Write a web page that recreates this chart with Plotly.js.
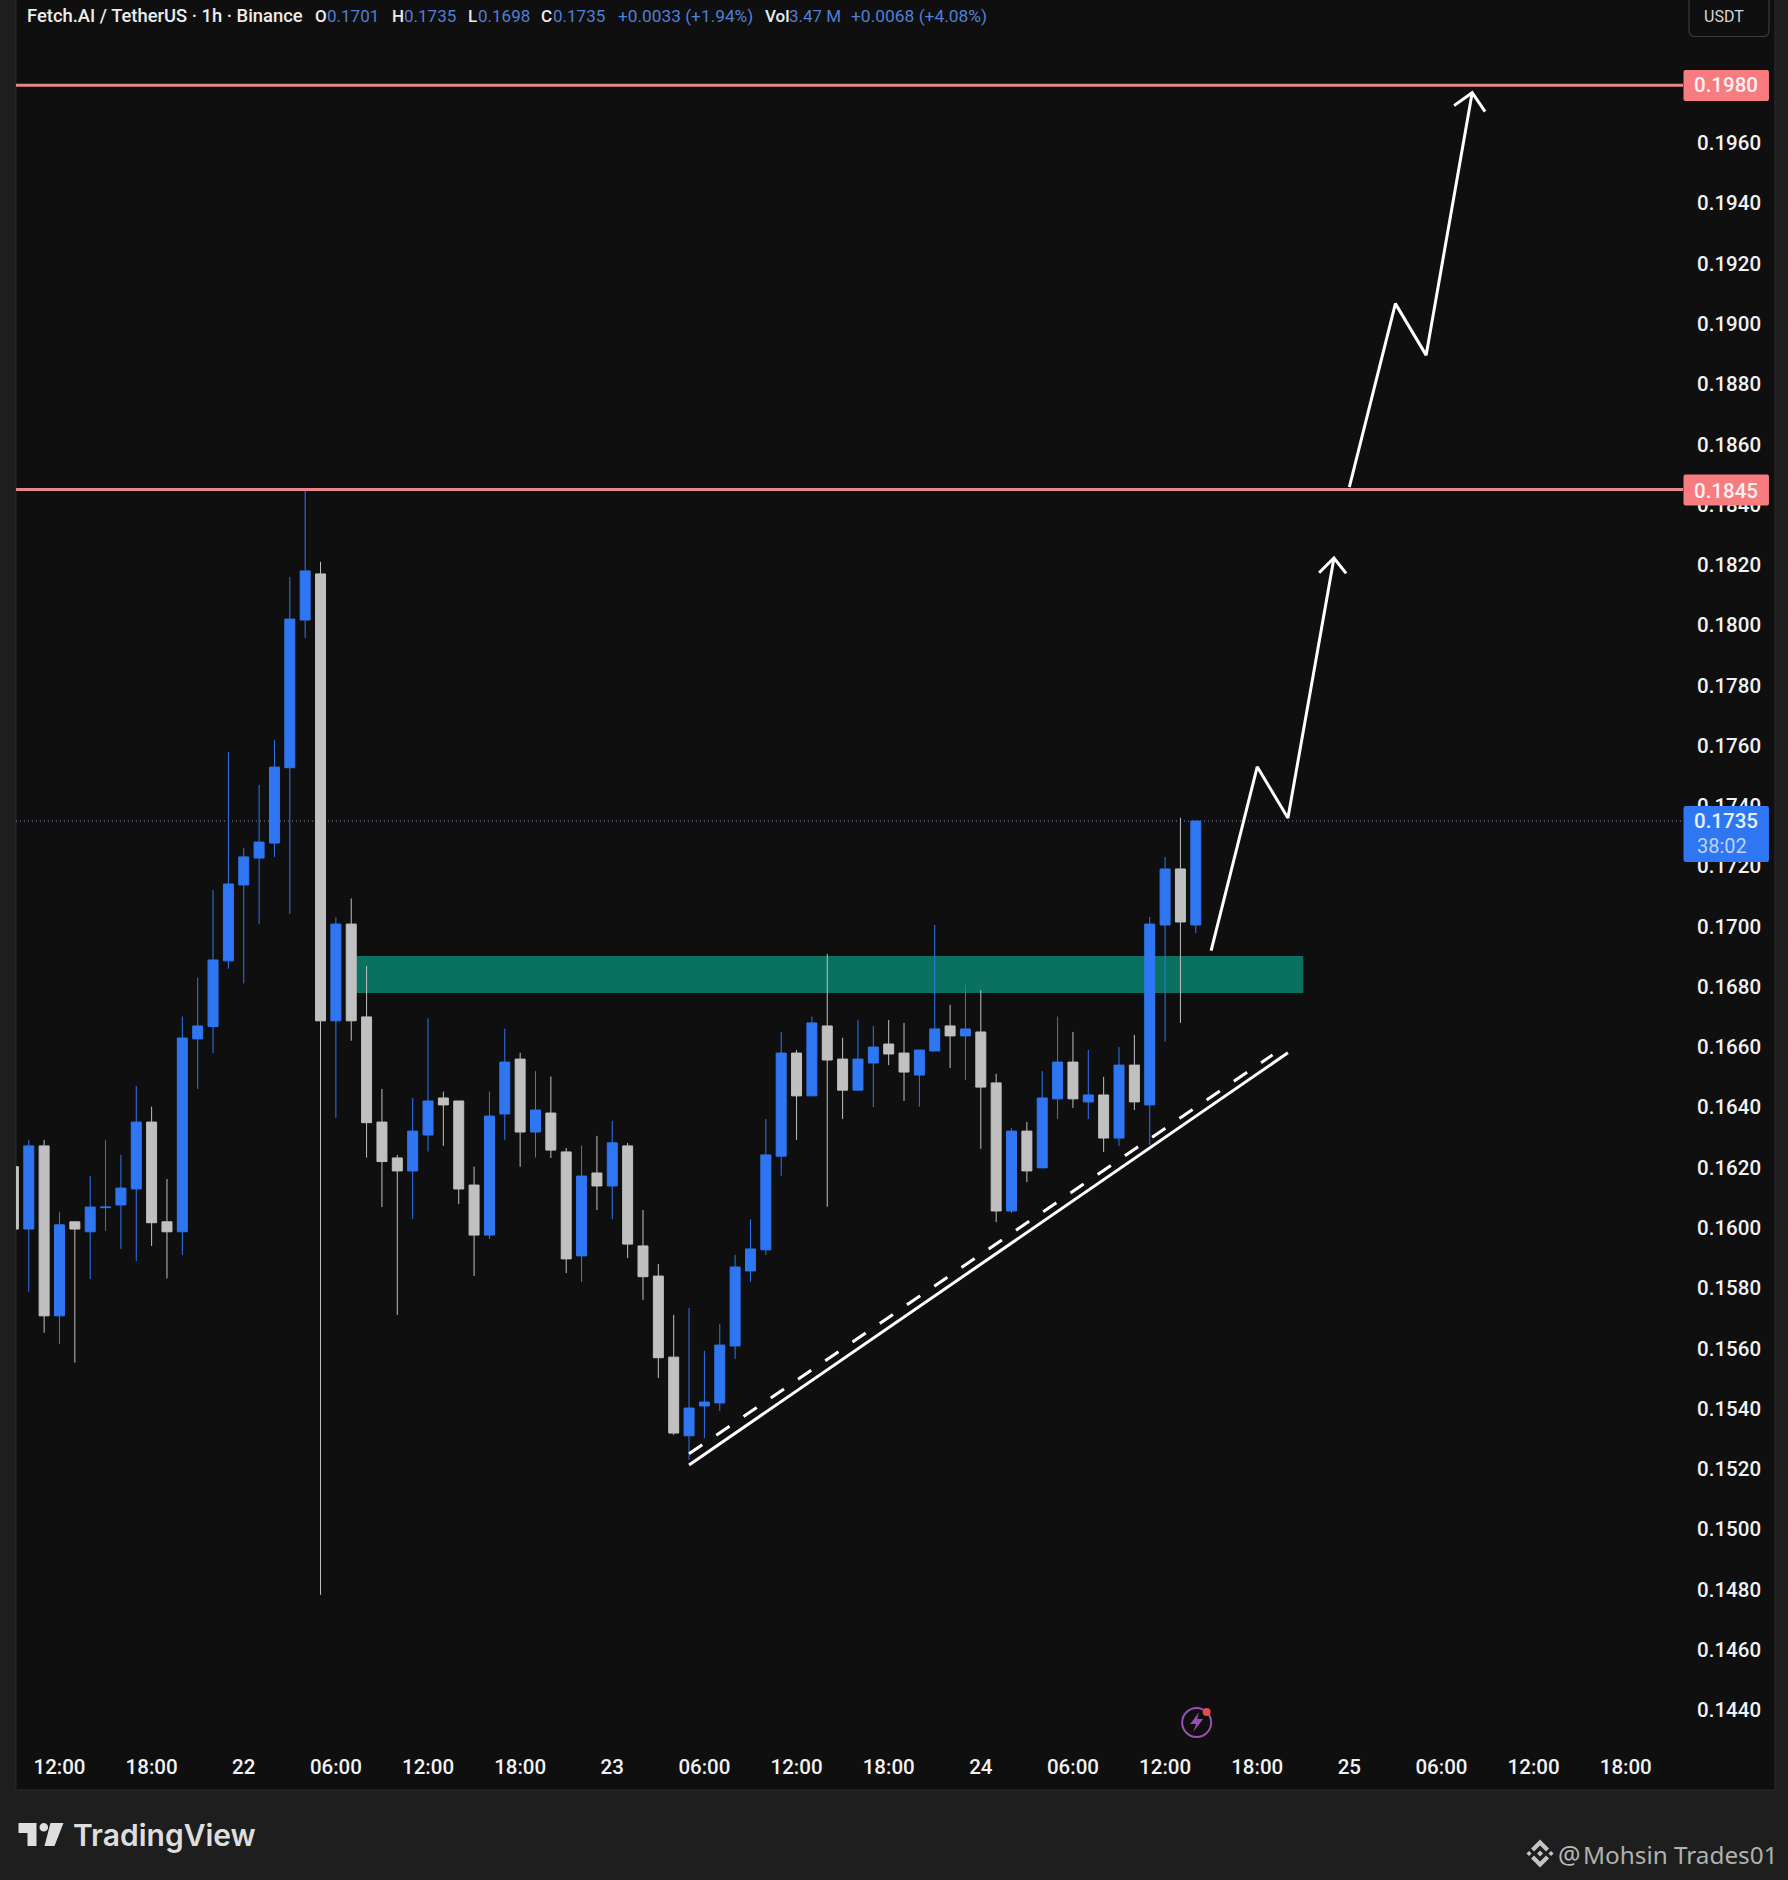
<!DOCTYPE html>
<html>
<head>
<meta charset="utf-8">
<script src="https://cdn.plot.ly/plotly-3.0.1.min.js"></script>
<style>html,body{margin:0;padding:0;background:#1e1e1e}#chart{width:1788px;height:1880px}</style>
</head>
<body>
<div id="chart"></div>
<script>
// Hours since 21st 12:00
const hours = [-3,-2,-1,0,1,2,3,4,5,6,7,8,9,10,11,12,13,14,15,16,17,18,19,20,21,22,23,24,25,26,27,28,29,30,31,32,33,34,35,36,37,38,39,40,41,42,43,44,45,46,47,48,49,50,51,52,53,54,55,56,57,58,59,60,61,62,63,64,65,66,67,68,69,70,71,72,73,74];
const opens = [.16203,.15996,.16272,.15708,.16020,.15987,.16067,.16076,.16129,.16351,.16020,.15987,.16627,.16668,.16886,.17138,.17227,.17277,.17527,.18017,.18170,.16687,.17008,.16700,.16351,.16232,.16189,.16308,.16431,.16421,.16142,.15976,.16378,.16560,.16318,.16381,.16252,.15907,.16182,.16139,.16272,.15940,.15840,.15571,.15310,.15409,.15419,.15608,.15857,.15927,.16238,.16580,.16438,.16670,.16560,.16457,.16547,.16610,.16580,.16507,.16587,.16670,.16637,.16650,.16481,.16056,.16321,.16199,.16428,.16550,.16418,.16441,.16298,.16540,.16408,.17005,.17191,.17005];
const highs = [.16203,.16292,.16292,.16053,.16020,.16172,.16292,.16242,.16471,.16402,.16162,.16701,.16831,.17121,.17579,.17261,.17470,.17619,.18160,.18449,.18210,.17030,.17093,.16869,.16461,.16242,.16431,.16695,.16452,.16421,.16203,.16452,.16661,.16581,.16520,.16502,.16265,.16273,.16305,.16355,.16282,.16059,.15880,.15711,.15734,.15592,.15681,.15910,.16029,.16361,.16650,.16590,.16701,.16909,.16631,.16690,.16670,.16690,.16680,.16590,.17005,.16740,.16806,.16789,.16511,.16331,.16351,.16520,.16701,.16650,.16590,.16501,.16600,.16640,.17032,.17231,.17361,.1735];
const lows = [.15996,.15788,.15652,.15615,.15553,.15830,.15990,.15930,.15890,.15940,.15832,.15910,.16461,.16580,.16860,.16811,.17008,.17231,.17042,.17957,.14782,.16365,.16621,.16233,.16069,.15711,.16029,.16253,.16272,.16079,.15840,.15963,.16292,.16203,.16233,.16232,.15850,.15820,.16059,.16029,.15900,.15761,.15502,.15313,.15230,.15303,.15392,.15565,.15821,.15910,.16173,.16292,.16438,.16070,.16361,.16457,.16401,.16540,.16421,.16402,.16587,.16530,.16491,.16262,.16019,.16049,.16152,.16199,.16361,.16398,.16361,.16252,.16272,.16391,.16275,.16618,.16680,.16978];
const closes = [.15996,.16272,.15708,.16010,.15996,.16069,.16069,.16132,.16351,.16017,.15987,.16630,.16670,.16889,.17141,.17231,.17280,.17529,.18020,.18180,.16687,.17008,.16687,.16349,.16220,.16189,.16321,.16421,.16408,.16129,.15976,.16371,.16550,.16318,.16391,.16258,.15897,.16172,.16139,.16282,.15946,.15838,.15569,.15319,.15402,.15422,.15611,.15870,.15930,.16242,.16580,.16438,.16680,.16557,.16457,.16560,.16600,.16577,.16517,.16590,.16660,.16637,.16660,.16467,.16056,.16321,.16189,.16431,.16550,.16428,.16441,.16298,.16540,.16418,.17008,.17191,.17015,.1735];

const xTickVals = [0,6,12,18,24,30,36,42,48,54,60,66,72,78,84,90,96,102];
const xTickText = ['12:00','18:00','22','06:00','12:00','18:00','23','06:00','12:00','18:00','24','06:00','12:00','18:00','25','06:00','12:00','18:00'];
const yTickVals = [.144,.146,.148,.15,.152,.154,.156,.158,.16,.162,.164,.166,.168,.17,.172,.174,.176,.178,.18,.182,.184,.186,.188,.19,.192,.194,.196];
const yTickText = ['0.1440','0.1460','0.1480','0.1500','0.1520','0.1540','0.1560','0.1580','0.1600','0.1620','0.1640','0.1660','0.1680','0.1700','0.1720','0.1740','0.1760','0.1780','0.1800','0.1820','0.1840','0.1860','0.1880','0.1900','0.1920','0.1940','0.1960'];

const upperLevel = 0.19792, lowerLevel = 0.1845, lastPrice = 0.1735;
const zoneHours = [19,81], zonePrices = [0.16779,0.16902];
const trendHours = [41,80], trendPrices = [0.15213,0.16581];
const dashHours = [41,79], dashPrices = [0.15250,0.16574];
const arrow1Hours = [75,78,80,83], arrow1Prices = [0.16920,0.17530,0.17360,0.18223];
const head1Hours = [82.03,83,83.79], head1Prices = [0.18174,0.18223,0.18172];
const arrow2Hours = [84,87,89,92], arrow2Prices = [0.18458,0.19067,0.18896,0.19767];
const head2Hours = [90.82,92,92.84], head2Prices = [0.19724,0.19767,0.19704];

// pixel helpers for page furniture only
const PL=15.5, PR=1683, PB=1748, PT=0;
const fx = p => (p-PL)/(PR-PL), fy = p => (PB-p)/(PB-PT);
function pathOf(pts){return 'M'+pts.map(p=>fx(p[0])+','+fy(p[1])).join('L')+'Z';}
function roundRect(x0,y0,x1,y1,r){
  const P=(x,y)=>fx(x)+','+fy(y);
  return 'M'+P(x0+r,y0)+'L'+P(x1-r,y0)+'Q'+P(x1,y0)+' '+P(x1,y0+r)+'L'+P(x1,y1-r)+'Q'+P(x1,y1)+' '+P(x1-r,y1)+'L'+P(x0+r,y1)+'Q'+P(x0,y1)+' '+P(x0,y1-r)+'L'+P(x0,y0+r)+'Q'+P(x0,y0)+' '+P(x0+r,y0)+'Z';
}
const pshape = (path,fill,line,layer) => ({type:'path',xref:'paper',yref:'paper',path,fillcolor:fill,line:line||{width:0},layer:layer||'above'});

const BLUE='#2f76f3', GREY='#c0c0c0', PINK='#e8868d', TAGPINK='#f77c80', WHITE='#ffffff';
const lineTrace=(x,y,w,dash)=>({type:'scatter',mode:'lines',x,y,hoverinfo:'skip',line:{color:WHITE,width:w,dash:dash||'solid'}});

const traces=[
 {type:'candlestick',x:hours,open:opens,high:highs,low:lows,close:closes,hoverinfo:'skip',whiskerwidth:0,
  increasing:{line:{color:BLUE,width:1},fillcolor:BLUE},
  decreasing:{line:{color:GREY,width:1},fillcolor:GREY}},
 lineTrace(trendHours,trendPrices,3),
 lineTrace(dashHours,dashPrices,3,'16px,17px'),
 lineTrace(arrow1Hours,arrow1Prices,3),
 lineTrace(head1Hours,head1Prices,3),
 lineTrace(arrow2Hours,arrow2Prices,3),
 lineTrace(head2Hours,head2Prices,3)
];

const xR=[(PL-59)/15.36,(PR-59)/15.36], yR=[0.200745-PB/30135,0.200745];
const cx=1540, cy=1853.5;
const shapes=[
 {type:'rect',xref:'paper',yref:'paper',x0:fx(15.5),x1:fx(1775),y0:fy(1790),y1:fy(-2),fillcolor:'#0f0f0f',line:{color:'#2b2b2b',width:1},layer:'below'},
 {type:'rect',xref:'x',yref:'y',x0:zoneHours[0],x1:zoneHours[1],y0:zonePrices[0],y1:zonePrices[1],fillcolor:'#0a705f',line:{width:0},layer:'below'},
 {type:'line',xref:'x',yref:'y',x0:xR[0],x1:xR[1],y0:lastPrice,y1:lastPrice,line:{color:'#6f8fd0',width:1,dash:'1px,3px'},layer:'below'},
 {type:'line',xref:'x',yref:'y',x0:xR[0],x1:xR[1],y0:upperLevel,y1:upperLevel,line:{color:PINK,width:3},layer:'above'},
 {type:'line',xref:'x',yref:'y',x0:xR[0],x1:xR[1],y0:lowerLevel,y1:lowerLevel,line:{color:PINK,width:3},layer:'above'},
 // price tags
 pshape(roundRect(1683.5,70,1769,101,2),TAGPINK),
 pshape(roundRect(1683.5,474.5,1769,505.5,2),TAGPINK),
 pshape(roundRect(1683.5,806,1769,862,2),BLUE),
 // USDT button
 pshape(roundRect(1689,-6,1769,36.5,6),'rgba(0,0,0,0)',{color:'#3b3b3b',width:1.2}),
 // flash icon
 {type:'circle',xref:'paper',yref:'paper',x0:fx(1182),x1:fx(1211),y0:fy(1737),y1:fy(1708),line:{color:'#9b4fb5',width:2},fillcolor:'rgba(0,0,0,0)',layer:'above'},
 pshape(pathOf([[1199,1712],[1190,1724],[1196,1724],[1193,1732],[1203,1719],[1197,1719]]),'#9b4fb5'),
 {type:'circle',xref:'paper',yref:'paper',x0:fx(1202.5),x1:fx(1210.5),y0:fy(1716),y1:fy(1708),line:{width:0},fillcolor:'#e5484d',layer:'above'},
 // TradingView mark
 pshape(pathOf([[18,1823],[36,1823],[36,1846],[27,1846],[27,1833],[18,1833]]),'#dedede'),
 {type:'circle',xref:'paper',yref:'paper',x0:fx(39),x1:fx(47.6),y0:fy(1831.5),y1:fy(1823),line:{width:0},fillcolor:'#dedede',layer:'above'},
 pshape(pathOf([[50,1823],[63,1823],[54,1846],[44,1846]]),'#dedede'),
 // Binance mark
 pshape(pathOf([[cx,cy-14],[cx+9,cy-5],[cx+6,cy-2],[cx,cy-8],[cx-6,cy-2],[cx-9,cy-5]]),'#c4c4c4'),
 pshape(pathOf([[cx,cy+14],[cx+9,cy+5],[cx+6,cy+2],[cx,cy+8],[cx-6,cy+2],[cx-9,cy+5]]),'#c4c4c4'),
 pshape(pathOf([[cx,cy-3],[cx+3,cy],[cx,cy+3],[cx-3,cy]]),'#c4c4c4'),
 pshape(pathOf([[cx-11,cy-2.6],[cx-8.4,cy],[cx-11,cy+2.6],[cx-13.6,cy]]),'#c4c4c4'),
 pshape(pathOf([[cx+11,cy-2.6],[cx+13.6,cy],[cx+11,cy+2.6],[cx+8.4,cy]]),'#c4c4c4')
];

const UI='Roboto, sans-serif';
const ann=(text,x,y,color,size,weight,anchor,family)=>({text,xref:'paper',yref:'paper',x:fx(x),y:fy(y),xanchor:anchor||'left',yanchor:'middle',showarrow:false,borderpad:0,font:{family:family||UI,size,color,weight:weight||400}});
const LB='#4f7fd6';
const annotations=[
 ann('Fetch.AI / TetherUS · 1h · Binance',26,16,'#ececec',18.4,500),
 ann('O',314,16,'#ececec',17,500), ann('0.1701',326,16,LB,17),
 ann('H',391,16,'#ececec',17,500), ann('0.1735',403,16,LB,17),
 ann('L',467,16,'#ececec',17,500), ann('0.1698',477,16,LB,17),
 ann('C',540,16,'#ececec',17,500), ann('0.1735',552,16,LB,17),
 ann('+0.0033 (+1.94%)',617,16,LB,17.3),
 ann('Vol',764,16,'#ececec',17,500), ann('3.47 M',788,16,LB,17),
 ann('+0.0068 (+4.08%)',850,16,LB,17.4),
 ann('USDT',1724,17,'#d6d6d6',16,400,'center'),
 ann('0.1980',1726,85.5,'#fff1f1',20.5,500,'center'),
 ann('0.1845',1726,490.5,'#fff1f1',20.5,500,'center'),
 ann('0.1735',1726,821,'#e8f1ff',20.5,500,'center'),
 ann('38:02',1722,846,'#bcd4fb',20,400,'center'),
 ann('TradingView',72,1835,'#dedede',30,600,'left','Inter, sans-serif'),
 ann('@',1557,1854,'#b8b8b8',25,400,'left','"Noto Sans", sans-serif'),
 ann('Mohsin Trades01',1582,1854,'#b0b0b0',24.3,400,'left','"Noto Sans", sans-serif')
];

const tickFont={family:UI,size:20.5,color:'#f2f2f2',weight:500};
const layout={
 width:1788,height:1880,
 margin:{l:PL,r:1788-PR,t:PT,b:1880-PB,pad:0,autoexpand:false},
 paper_bgcolor:'#1e1e1e',plot_bgcolor:'#0f0f0f',showlegend:false,boxgap:0.35,boxgroupgap:0,
 xaxis:{range:xR,rangeslider:{visible:false},tickmode:'array',tickvals:xTickVals,ticktext:xTickText,showgrid:false,zeroline:false,showline:false,ticks:'',ticklabelstandoff:4,tickfont:tickFont,tickangle:0},
 yaxis:{range:yR,side:'right',tickmode:'array',tickvals:yTickVals,ticktext:yTickText,showgrid:false,zeroline:false,showline:false,ticks:'outside',ticklen:9,tickcolor:'rgba(0,0,0,0)',tickfont:tickFont},
 shapes,annotations,hovermode:false
};
Plotly.newPlot('chart',traces,layout,{staticPlot:true,displayModeBar:false});
</script>
</body>
</html>
